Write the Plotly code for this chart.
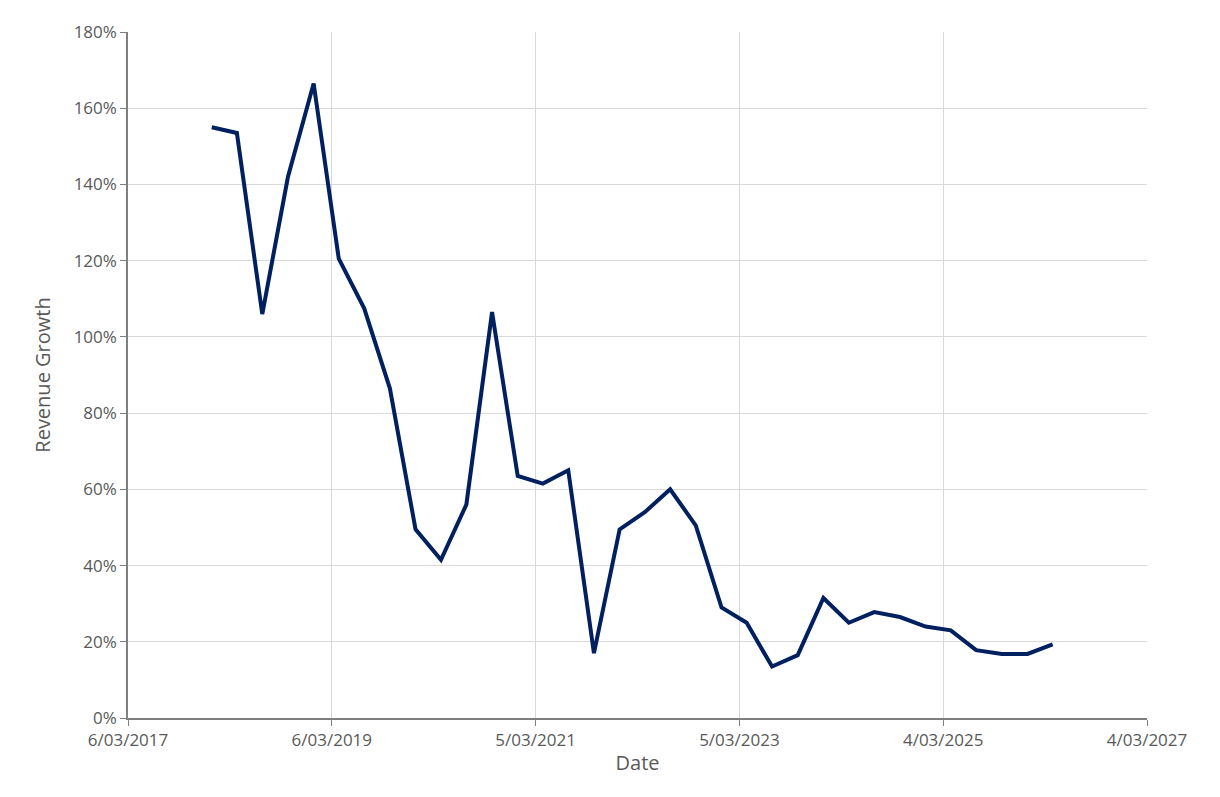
import pandas as pd
import plotly.graph_objects as go

dates = list(pd.date_range("2017-12-31", "2026-03-31", freq="QE").strftime("%Y-%m-%d"))
growth = [155, 153.5, 106, 142, 166.5, 120.5, 107.5, 86.5, 49.5, 41.5, 56, 106.5,
          63.5, 61.5, 65, 17, 49.5, 54, 60, 50.5, 29, 25, 13.5, 16.5, 31.5, 25,
          27.8, 26.5, 24, 23, 17.8, 16.8, 16.8, 19.3]
growth = [g / 100 for g in growth]
xticks = ["2017-03-06", "2019-03-06", "2021-03-05", "2023-03-05", "2025-03-04", "2027-03-04"]
xticklabels = ["6/03/2017", "6/03/2019", "5/03/2021", "5/03/2023", "4/03/2025", "4/03/2027"]

fig = go.Figure(go.Scatter(x=dates, y=growth, mode="lines",
                           line=dict(color="#002060", width=4)))
font = dict(family="Open Sans, Liberation Sans, Arial", size=17, color="#595959")
fig.update_layout(
    width=1220, height=797, margin=dict(l=120, r=81, t=13, b=87),
    plot_bgcolor="white", paper_bgcolor="white", showlegend=False, font=font,
    xaxis=dict(range=[xticks[0], xticks[-1]], tickvals=xticks, ticktext=xticklabels,
               showgrid=True, gridcolor="#d9d9d9", showline=True, linecolor="#7f7f7f",
               linewidth=1.5, ticks="outside", tickcolor="#7f7f7f", ticklen=6,
               title=dict(text="Date", font=dict(size=20, color="#595959"), standoff=6),
               zeroline=False),
    yaxis=dict(range=[0, 1.8], dtick=0.2, tickformat=".0%", showgrid=True,
               gridcolor="#d9d9d9", showline=True, linecolor="#7f7f7f", linewidth=1.5,
               ticks="outside", tickcolor="#7f7f7f", ticklen=6,
               title=dict(text="Revenue Growth", font=dict(size=20, color="#595959"), standoff=18),
               zeroline=False),
)
fig.write_html("out.html")
